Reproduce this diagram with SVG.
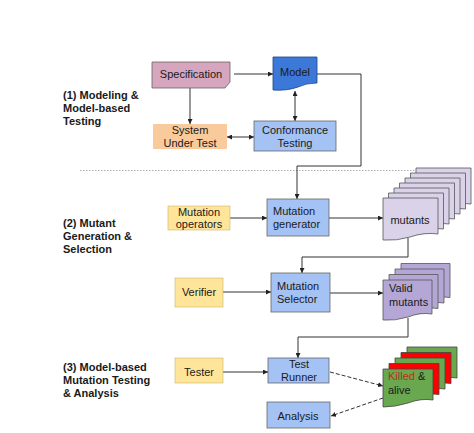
<svg xmlns="http://www.w3.org/2000/svg" width="474" height="433" viewBox="0 0 474 433">
<style>
text{font-family:"Liberation Sans",Arial,sans-serif;font-size:11px;fill:#1a1a1a}
.lbl{font-weight:bold;font-size:11px}
.c{text-anchor:middle}
.ln{fill:none;stroke:#333;stroke-width:1}
.dash{fill:none;stroke:#333;stroke-width:1;stroke-dasharray:4 2}
.bx{stroke:#666;stroke-width:0.8}
</style>
<defs>
<marker id="ah" viewBox="0 0 6 6" refX="6" refY="3" markerWidth="5" markerHeight="5" orient="auto-start-reverse" markerUnits="userSpaceOnUse">
<path d="M0,0 L6,3 L0,6 Z" fill="#222"/>
</marker>
<path id="docM" d="M0,0 H55 V36 Q41,34 27,39 Q14,43 0,42 Z"/>
<path id="docV" d="M0,0 H49 V34 Q37,32 25,37 Q12,41 0,40 Z"/>
<path id="docK" d="M0,0 H50 V31 Q38,29 25,34 Q12,38 0,38 Z"/>
</defs>
<rect width="474" height="433" fill="#fff"/>

<g id="section-labels">
<text class="lbl" x="63" y="99">(1) Modeling &amp;</text>
<text class="lbl" x="63" y="112">Model-based</text>
<text class="lbl" x="63" y="125">Testing</text>
<text class="lbl" x="63" y="227">(2) Mutant</text>
<text class="lbl" x="63" y="240">Generation &amp;</text>
<text class="lbl" x="63" y="253">Selection</text>
<text class="lbl" x="63" y="371">(3) Model-based</text>
<text class="lbl" x="63" y="384">Mutation Testing</text>
<text class="lbl" x="63" y="397">&amp; Analysis</text>
</g>

<line x1="80" y1="170.5" x2="462" y2="170.5" stroke="#999" stroke-width="0.8" stroke-dasharray="1.5 1.5"/>

<g id="connectors">
<line class="ln" x1="234" y1="74" x2="273" y2="74" marker-end="url(#ah)"/>
<line class="ln" x1="190" y1="88" x2="190" y2="124" marker-end="url(#ah)"/>
<line class="ln" x1="295" y1="91" x2="295" y2="121" marker-start="url(#ah)" marker-end="url(#ah)"/>
<line class="ln" x1="227" y1="137" x2="254" y2="137" marker-start="url(#ah)" marker-end="url(#ah)"/>
<polyline class="ln" points="317,74 361,74 361,166 297,166 297,199" marker-end="url(#ah)"/>
<line class="ln" x1="230" y1="218" x2="267" y2="218" marker-end="url(#ah)"/>
<line class="ln" x1="329" y1="218" x2="383" y2="218" marker-end="url(#ah)"/>
<polyline class="ln" points="408,238 408,257 302,257 302,273" marker-end="url(#ah)"/>
<line class="ln" x1="223" y1="292" x2="271" y2="292" marker-end="url(#ah)"/>
<line class="ln" x1="330" y1="293" x2="383" y2="293" marker-end="url(#ah)"/>
<polyline class="ln" points="408,318 408,337 298,337 298,358" marker-end="url(#ah)"/>
<line class="ln" x1="223" y1="372" x2="268" y2="372" marker-end="url(#ah)"/>
<line class="dash" x1="330" y1="372" x2="383" y2="386" marker-end="url(#ah)"/>
<line class="dash" x1="383" y1="398" x2="331" y2="416" marker-end="url(#ah)"/>
</g>

<g id="specification">
<path class="bx" d="M152,62 H230 V82 L225,88 H152 Z" fill="#d5a6bd"/>
<text class="c" x="191" y="78">Specification</text>
</g>

<g id="model">
<path d="M273,57 H317 V83 Q306,83 298,87 Q287,91 273,90 Z" fill="#3c78d8" stroke="#1c4587" stroke-width="0.8"/>
<text class="c" x="295" y="76" fill="#0b1f44">Model</text>
</g>

<g id="system-under-test">
<rect x="153" y="124" width="74" height="25" fill="#f9cb9c"/>
<text class="c" x="190" y="134">System</text>
<text class="c" x="190" y="147">Under Test</text>
</g>

<g id="conformance-testing">
<rect class="bx" x="254" y="121" width="82" height="30" fill="#a4c2f4"/>
<text class="c" x="295" y="134">Conformance</text>
<text class="c" x="295" y="147">Testing</text>
</g>

<g id="mutation-operators">
<rect x="168" y="206" width="62" height="24" fill="#ffe599" stroke="#c9b26a" stroke-width="0.6"/>
<text class="c" x="199" y="216">Mutation</text>
<text class="c" x="199" y="228">operators</text>
</g>

<g id="mutation-generator">
<rect class="bx" x="267" y="199" width="62" height="37" fill="#a4c2f4"/>
<text x="273" y="215">Mutation</text>
<text x="273" y="228">generator</text>
</g>

<g id="mutants" fill="#d9d2e9" stroke="#555" stroke-width="0.8">
<use href="#docM" x="416" y="168"/>
<use href="#docM" x="410.5" y="173"/>
<use href="#docM" x="405" y="178"/>
<use href="#docM" x="399.5" y="183"/>
<use href="#docM" x="394" y="188"/>
<use href="#docM" x="388.5" y="193"/>
<use href="#docM" x="383" y="198"/>
<text class="c" x="410" y="224" stroke="none">mutants</text>
</g>

<g id="verifier">
<rect x="175" y="278" width="48" height="29" fill="#ffe599" stroke="#c9b26a" stroke-width="0.6"/>
<text class="c" x="199" y="296">Verifier</text>
</g>

<g id="mutation-selector">
<rect class="bx" x="271" y="273" width="59" height="39" fill="#a4c2f4"/>
<text x="277" y="290">Mutation</text>
<text x="277" y="303">Selector</text>
</g>

<g id="valid-mutants" fill="#b4a7d6" stroke="#555" stroke-width="0.8">
<use href="#docV" x="401" y="263.5"/>
<use href="#docV" x="395" y="269"/>
<use href="#docV" x="389" y="274.5"/>
<use href="#docV" x="383" y="280"/>
<text x="389" y="292" stroke="none">Valid</text>
<text x="389" y="306" stroke="none">mutants</text>
</g>

<g id="tester">
<rect x="175" y="358" width="48" height="25" fill="#ffe599" stroke="#c9b26a" stroke-width="0.6"/>
<text class="c" x="199" y="376">Tester</text>
</g>

<g id="test-runner">
<rect class="bx" x="268" y="358" width="61" height="25" fill="#a4c2f4"/>
<text class="c" x="299" y="368">Test</text>
<text class="c" x="299" y="381">Runner</text>
</g>

<g id="analysis">
<rect class="bx" x="267" y="402" width="63" height="26" fill="#a4c2f4"/>
<text class="c" x="298" y="420">Analysis</text>
</g>

<g id="killed-alive" stroke="#444" stroke-width="0.8">
<use href="#docK" x="407" y="347" fill="#6aa84f"/>
<use href="#docK" x="401" y="352.5" fill="#ff0000"/>
<use href="#docK" x="395" y="358" fill="#6aa84f"/>
<use href="#docK" x="389" y="363.5" fill="#ff0000"/>
<use href="#docK" x="383" y="369" fill="#6aa84f"/>
<text x="388" y="380" stroke="none"><tspan fill="#b5311a">Killed</tspan> &amp;</text>
<text x="388" y="394" stroke="none" fill="#b6d7a8">alive</text>
</g>
</svg>
